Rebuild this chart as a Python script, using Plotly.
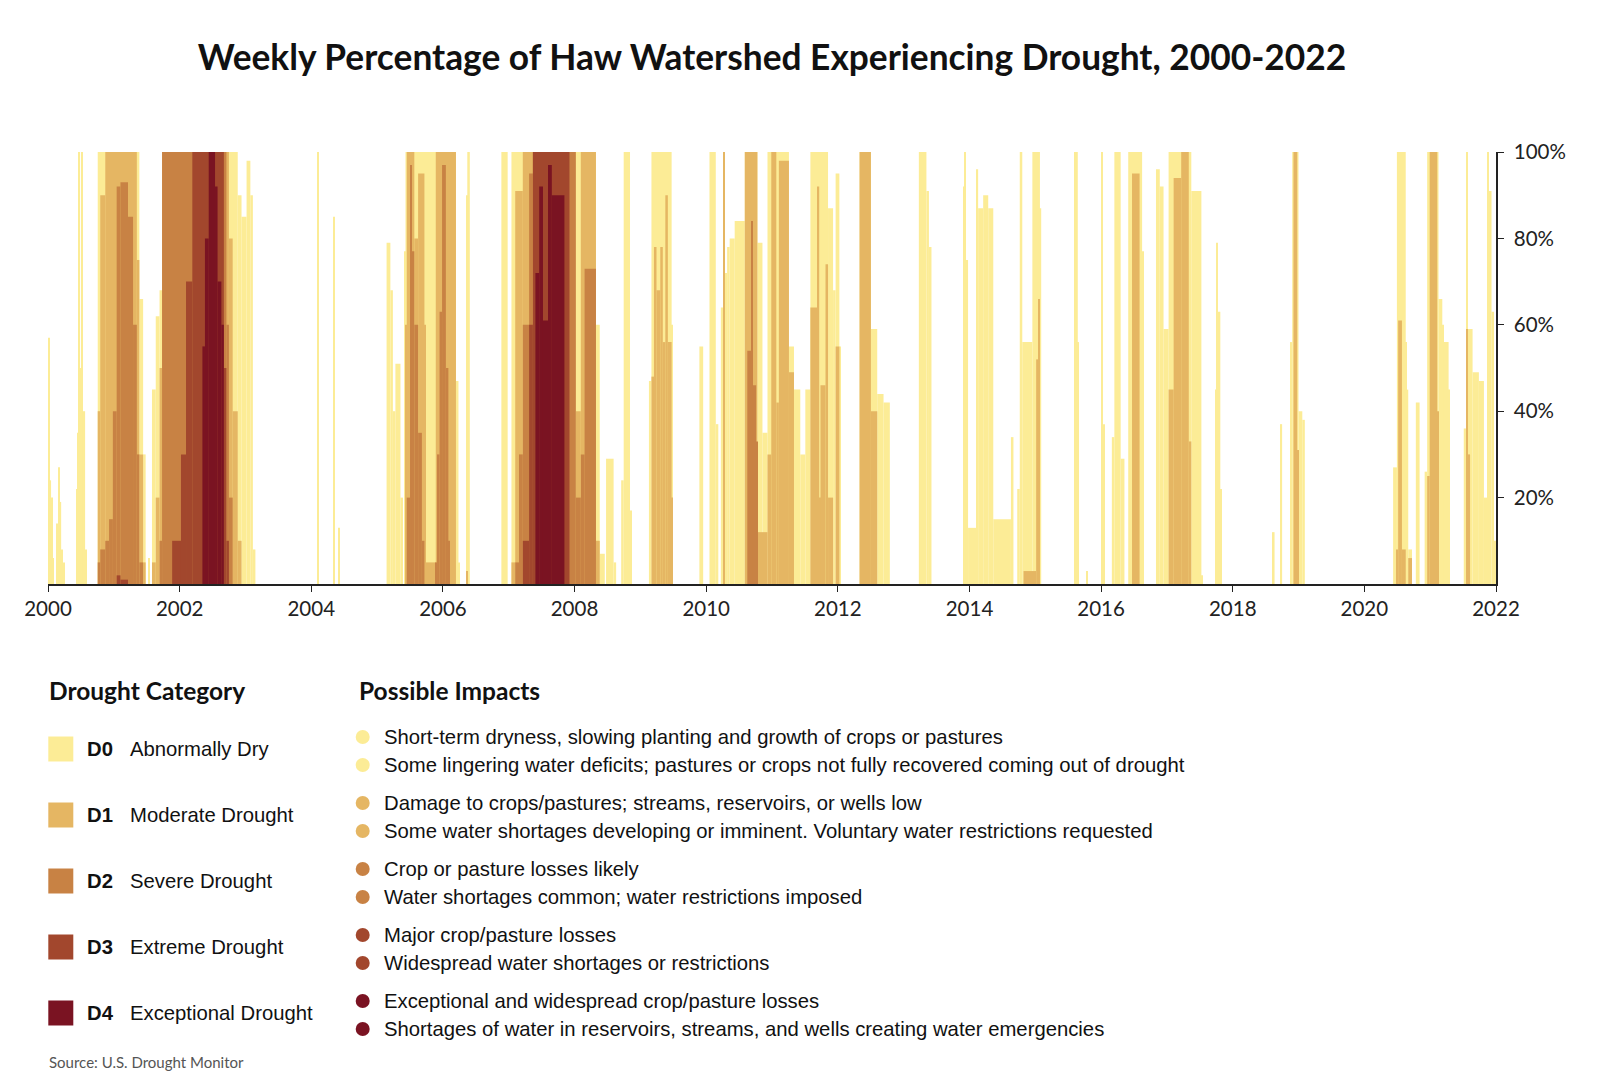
import plotly.graph_objects as go
from datetime import datetime, timedelta

# ---------------- data (weeks counted from 2000-01-04; runs of equal weekly values) -------------
categories = ["D0", "D1", "D2", "D3", "D4"]
category_names = ["Abnormally Dry", "Moderate Drought", "Severe Drought", "Extreme Drought", "Exceptional Drought"]
colors = ["#FCEC96", "#E5B663", "#C88244", "#A2472D", "#7A1322"]

d0_start = [0, 1, 2, 3, 6, 8, 9, 10, 12, 22, 23, 24, 25, 26, 27, 29,
            39, 72, 75, 79,
            82, 85, 88, 90, 150, 153, 157, 160, 162,
            213, 226, 230,
            268, 271, 273, 275, 279, 282, 283, 323, 325, 331, 332,
            359, 367, 434, 437, 442, 448, 454, 456, 461,
            476, 478, 494, 516,
            524, 529, 533, 535, 536, 538, 540, 544, 552, 562, 566, 570, 587, 591, 596, 600, 604, 618, 622, 624, 627, 643, 652, 657, 662,
            690, 696, 698, 725, 726, 727, 729, 736, 737, 741, 745, 749, 763, 768, 770, 772, 780, 786,
            813, 816, 823, 835, 836, 843, 845, 850, 856, 867,
            878, 881, 884, 888, 906, 914, 925, 926, 927, 929,
            970, 977, 985, 986, 991, 994,
            1066, 1069, 1076, 1077, 1078, 1084, 1091, 1093, 1102, 1105, 1106, 1110, 1122, 1124, 1125, 1129, 1134, 1138, 1141, 1142, 1144, 1146]
d0_weeks = [1, 1, 1, 1, 1, 1, 1, 1, 1, 1, 1, 1, 1, 1, 2, 1,
            33, 3, 2, 1,
            3, 3, 2, 60, 3, 4, 3, 2, 2,
            1, 1, 1,
            3, 2, 2, 4, 2, 1, 40, 2, 1, 1, 2,
            5, 67, 3, 4, 6, 2, 2, 5, 1,
            2, 16, 1, 3,
            5, 2, 2, 1, 2, 2, 4, 8, 10, 4, 4, 17, 4, 5, 4, 4, 14, 4, 2, 3, 1, 9, 5, 5, 5,
            6, 2, 2, 1, 1, 2, 7, 1, 4, 4, 4, 14, 2, 2, 2, 8, 6, 1,
            3, 1, 1, 1, 1, 2, 5, 3, 11, 1,
            3, 3, 4, 18, 8, 1, 1, 1, 2, 1,
            2, 1, 1, 5, 3, 2,
            3, 7, 1, 1, 3, 3, 2, 9, 3, 1, 4, 1, 2, 1, 4, 5, 4, 3, 1, 2, 2, 2]
d0_pct = [57, 24, 20, 6, 14, 27, 19, 8, 5, 22, 35, 100, 50, 100, 40, 8,
          100, 66, 30, 6,
          45, 62, 68, 100, 90, 85, 98, 90, 8,
          100, 85, 13,
          79, 68, 40, 51, 20, 77, 100, 47, 5, 90, 100,
          100, 100, 60, 7, 29, 5, 24, 100, 17,
          47, 100, 60, 55,
          100, 37, 64, 100, 72, 78, 80, 84, 100, 79, 35, 100, 55, 45, 30, 45, 100, 87, 68, 95, 55, 100, 59, 44, 42,
          100, 91, 78, 92, 100, 75, 13, 96, 87, 90, 87, 15, 34, 22, 100, 56, 100, 87,
          100, 56, 3, 100, 37, 34, 100, 29, 100, 77,
          96, 92, 59, 100, 91, 2, 45, 79, 63, 22,
          12, 37, 56, 100, 40, 38,
          27, 100, 56, 45, 8, 42, 26, 100, 66, 60, 56, 45, 36, 100, 59, 49, 47, 20, 100, 91, 63, 10]

d1_start = [39, 41, 45, 70, 72, 75,
            82, 85, 88, 90, 143, 146, 150,
            283, 284, 290, 293, 298, 299, 307, 331,
            367, 370, 376, 418, 422, 434,
            478, 480, 482, 485, 487, 489, 491, 494,
            535, 552, 562, 570, 573, 577, 579, 587, 604, 610, 611, 612, 616, 618, 624, 643, 652,
            773, 783, 785,
            859,
            888, 892, 898, 904,
            987, 990,
            1069, 1070, 1073, 1078, 1093, 1095, 1101, 1124, 1125]
d1_weeks = [2, 4, 25, 2, 3, 2,
            3, 3, 2, 53, 3, 4, 3,
            1, 6, 3, 5, 1, 8, 16, 1,
            3, 6, 42, 4, 12, 3,
            2, 2, 3, 2, 2, 2, 3, 1,
            1, 10, 8, 3, 4, 2, 8, 4, 6, 1, 1, 4, 2, 4, 3, 9, 5,
            10, 2, 1,
            6,
            4, 6, 6, 2,
            3, 1,
            1, 3, 3, 3, 2, 6, 1, 1, 2]
d1_pct = [40, 90, 100, 75, 30, 5,
          5, 20, 50, 100, 80, 40, 10,
          60, 100, 80, 95, 60, 5, 100, 3,
          5, 91, 100, 40, 100, 10,
          48, 78, 68, 78, 56, 90, 56, 20,
          100, 100, 12, 30, 100, 42, 98, 49, 64, 92, 20, 46, 74, 20, 55, 100, 40,
          3, 52, 66,
          95,
          45, 94, 100, 33,
          100, 31,
          8, 61, 8, 6, 25, 100, 40, 59, 30]

d2_start = [39, 41, 45, 48, 51, 54, 57, 63, 67, 70, 72,
            88, 90, 141, 143,
            284, 287, 288, 290, 293, 296, 307, 308, 310, 312, 315, 317,
            370, 373, 376, 381, 384, 418, 422, 425,
            554, 557, 558, 561]
d2_weeks = [2, 4, 3, 3, 3, 3, 6, 4, 3, 2, 3,
            2, 51, 2, 3,
            3, 1, 2, 3, 3, 2, 1, 2, 2, 3, 2, 1,
            3, 3, 5, 3, 34, 4, 3, 9,
            3, 1, 3, 1]
d2_pct = [5, 8, 10, 15, 40, 92, 93, 85, 60, 30, 5,
          10, 100, 60, 20,
          20, 97, 77, 60, 35, 10, 5, 30, 63, 97, 50, 10,
          5, 30, 60, 95, 100, 20, 30, 73,
          54, 84, 46, 33]

d3_start = [54, 57, 98, 105, 109, 114, 139, 141, 376, 381, 384]
d3_weeks = [3, 6, 7, 4, 5, 25, 2, 2, 5, 3, 29]
d3_pct = [2, 1, 10, 30, 70, 100, 50, 10, 10, 60, 100]

d4_start = [122, 124, 127, 132, 134, 137, 386, 389, 392, 396, 399]
d4_weeks = [2, 3, 5, 2, 3, 2, 3, 3, 4, 3, 10]
d4_pct = [55, 80, 100, 92, 70, 60, 72, 92, 61, 97, 90]

impacts = [
    ["Short-term dryness, slowing planting and growth of crops or pastures",
     "Some lingering water deficits; pastures or crops not fully recovered coming out of drought"],
    ["Damage to crops/pastures; streams, reservoirs, or wells low",
     "Some water shortages developing or imminent. Voluntary water restrictions requested"],
    ["Crop or pasture losses likely",
     "Water shortages common; water restrictions imposed"],
    ["Major crop/pasture losses",
     "Widespread water shortages or restrictions"],
    ["Exceptional and widespread crop/pasture losses",
     "Shortages of water in reservoirs, streams, and wells creating water emergencies"],
]
year_ticks = list(range(2000, 2023, 2))
pct_ticks = [20, 40, 60, 80, 100]

# ---------------- figure -------------------------------------------------------------------------
W, H = 1600, 1092
L, R, T, B = 48, 104, 152, 508
BASE = datetime(2000, 1, 4)
WEEK_MS = 7 * 24 * 3600 * 1000

series = [(d0_start, d0_weeks, d0_pct), (d1_start, d1_weeks, d1_pct), (d2_start, d2_weeks, d2_pct),
          (d3_start, d3_weeks, d3_pct), (d4_start, d4_weeks, d4_pct)]

fig = go.Figure()
for (st, wk, pc), col, cat in zip(series, colors, categories):
    assert len(st) == len(wk) == len(pc)
    fig.add_trace(go.Bar(
        x=[(BASE + timedelta(weeks=s)).strftime("%Y-%m-%d") for s in st],
        y=pc,
        width=[n * WEEK_MS for n in wk],
        offset=0,
        marker=dict(color=col, line=dict(width=0)),
        name=cat, showlegend=False,
        hovertemplate=cat + " %{y}%<extra></extra>",
    ))

pw, ph = W - L - R, H - T - B


def PX(px):
    return (px - L) / pw


def PY(py):
    return (H - B - py) / ph


shapes = []
annotations = []
head_font = dict(family="Lato", size=24.5, color="#111111")
body_font = dict(family="Liberation Sans, Arial", size=20.3, color="#111111")

annotations.append(dict(text="<b>Drought Category</b>", x=PX(47), y=PY(690), xref="paper", yref="paper",
                        xanchor="left", yanchor="middle", showarrow=False, font=head_font))
annotations.append(dict(text="<b>Possible Impacts</b>", x=PX(357), y=PY(690), xref="paper", yref="paper",
                        xanchor="left", yanchor="middle", showarrow=False, font=head_font))

sw_centers = [749, 815, 881, 947, 1013]
pair_rows = [(737, 765), (803, 831), (869, 897), (935, 963), (1001, 1029)]
for i in range(5):
    cy = sw_centers[i]
    shapes.append(dict(type="rect", xref="paper", yref="paper", x0=PX(48.3), x1=PX(73.3),
                       y0=PY(cy + 12.5), y1=PY(cy - 12.5), fillcolor=colors[i], line=dict(width=0)))
    annotations.append(dict(text="<b>" + categories[i] + "</b>", x=PX(85), y=PY(cy), xref="paper", yref="paper",
                            xanchor="left", yanchor="middle", showarrow=False, font=body_font))
    annotations.append(dict(text=category_names[i], x=PX(128), y=PY(cy), xref="paper", yref="paper",
                            xanchor="left", yanchor="middle", showarrow=False, font=body_font))
    for j, ry in enumerate(pair_rows[i]):
        shapes.append(dict(type="circle", xref="paper", yref="paper", x0=PX(355.7), x1=PX(369.7),
                           y0=PY(ry + 7), y1=PY(ry - 7), fillcolor=colors[i], line=dict(width=0)))
        annotations.append(dict(text=impacts[i][j], x=PX(382), y=PY(ry), xref="paper", yref="paper",
                                xanchor="left", yanchor="middle", showarrow=False, font=body_font))

annotations.append(dict(text="Source: U.S. Drought Monitor", x=PX(47), y=PY(1062), xref="paper", yref="paper",
                        xanchor="left", yanchor="middle", showarrow=False,
                        font=dict(family="Lato", size=15, color="#555555")))

fig.update_layout(
    width=W, height=H,
    margin=dict(l=L, r=R, t=T, b=B, pad=0),
    paper_bgcolor="white", plot_bgcolor="white",
    barmode="overlay",
    font=dict(family="Lato", color="#222222"),
    title=dict(text="<b>Weekly Percentage of Haw Watershed Experiencing Drought, 2000-2022</b>",
               x=0.5, xref="paper", xanchor="center", y=1 - 58 / H, yref="container", yanchor="middle",
               font=dict(family="Lato", size=35.3, color="#111111")),
    xaxis=dict(type="date", range=["2000-01-01", "2022-01-01"],
               tickvals=[f"{y}-01-01" for y in year_ticks], ticktext=[str(y) for y in year_ticks],
               ticks="outside", ticklen=6, tickwidth=1.2, tickcolor="#222222",
               showline=True, linecolor="#222222", linewidth=1.5, showgrid=False, zeroline=False,
               tickfont=dict(family="Lato", size=20.5, color="#222222"), fixedrange=True),
    yaxis=dict(range=[0, 100], side="right", tickvals=pct_ticks, ticktext=[f"{v}%" for v in pct_ticks],
               ticks="outside", ticklen=6, tickwidth=1.2, tickcolor="#222222",
               showline=True, linecolor="#222222", linewidth=1.5, showgrid=False, zeroline=False,
               tickfont=dict(family="Lato", size=20.5, color="#222222"), ticklabelstandoff=6, fixedrange=True),
    shapes=shapes,
    annotations=annotations,
)

fig.write_html("out.html", config={"displayModeBar": False},
               post_script="document.body.style.margin='0px';document.body.style.overflow='hidden';")
